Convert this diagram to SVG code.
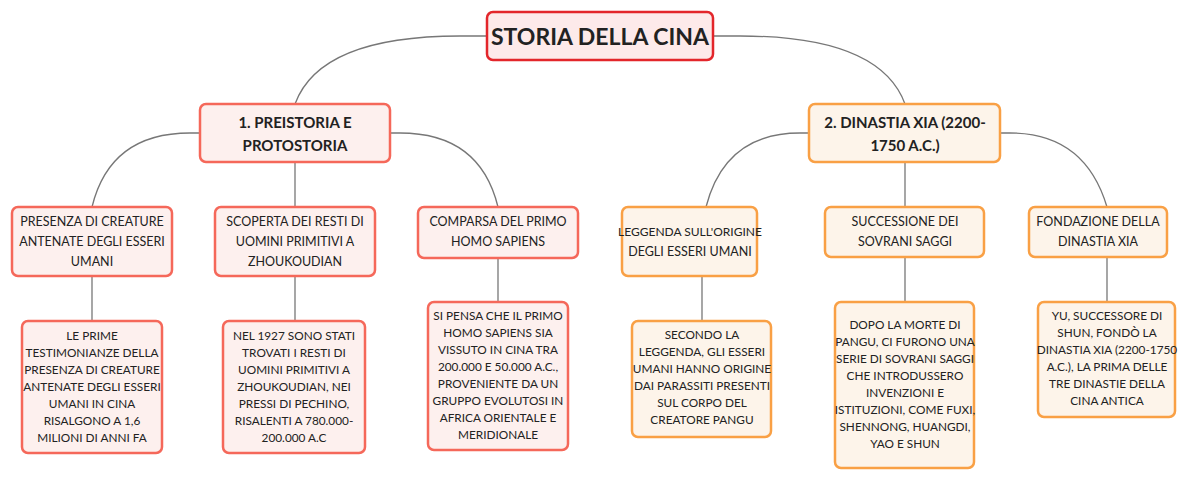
<svg xmlns="http://www.w3.org/2000/svg" width="1200" height="482" viewBox="0 0 1200 482">
<style>
text{font-family:Lato,"Open Sans",sans-serif;fill:#222;text-anchor:middle}
.r{fill:#fdeaea;stroke:#e3262b;stroke-width:2.5}
.p{fill:#fdf0ee;stroke:#f5685a;stroke-width:2.5}
.o{fill:#fdf4ea;stroke:#f9a045;stroke-width:2.5}
.t{font-size:12.5px}
.h{font-size:15px;font-weight:bold}
.s{font-size:11.8px}
.c path{fill:none;stroke:#777;stroke-width:1.3}
</style>
<rect width="1200" height="482" fill="#fff"/>
<g class="c">
<path d="M487 36 H460 Q320 36 295 104"/>
<path d="M713 36 H740 Q880 36 905 104"/>
<path d="M200 133 H190 Q110 133 92 207"/>
<path d="M295 162 V207"/>
<path d="M390 133 H400 Q480 133 498 207"/>
<path d="M809 133 H800 Q725 133 706 207"/>
<path d="M905 162 V207"/>
<path d="M1000 133 H1010 Q1085 133 1107 207"/>
<path d="M92 276 V321"/><path d="M295 276 V321"/><path d="M498 258 V302"/>
<path d="M702 276 V321"/><path d="M905 257 V302"/><path d="M1107 257 V302"/>
</g>
<g id="root"><rect class="r" x="487" y="12" width="226" height="48" rx="6"/><text x="600" y="45" style="font-size:23px;font-weight:bold">STORIA DELLA CINA</text></g>
<g id="n1"><rect class="p" x="200" y="104" width="190" height="58" rx="6"/><text class="h" x="295" y="128">1. PREISTORIA E</text><text class="h" x="295" y="151">PROTOSTORIA</text></g>
<g id="n2"><rect class="o" x="809" y="104" width="191" height="58" rx="6"/><text class="h" x="905" y="128">2. DINASTIA XIA (2200-</text><text class="h" x="905" y="151">1750 A.C.)</text></g>
<g id="a1"><rect class="p" x="12" y="207" width="160" height="69" rx="6"/><text class="t" x="92" y="226">PRESENZA DI CREATURE</text><text class="t" x="92" y="246">ANTENATE DEGLI ESSERI</text><text class="t" x="92" y="266">UMANI</text></g>
<g id="a2"><rect class="p" x="215" y="207" width="160" height="69" rx="6"/><text class="t" x="295" y="226">SCOPERTA DEI RESTI DI</text><text class="t" x="295" y="246">UOMINI PRIMITIVI A</text><text class="t" x="295" y="266">ZHOUKOUDIAN</text></g>
<g id="a3"><rect class="p" x="418" y="207" width="160" height="51" rx="6"/><text class="t" x="498" y="226">COMPARSA DEL PRIMO</text><text class="t" x="498" y="246">HOMO SAPIENS</text></g>
<g id="b1"><rect class="o" x="622" y="207" width="135" height="69" rx="6"/><text class="t" x="690" y="236" style="font-size:12px">LEGGENDA SULL'ORIGINE</text><text class="t" x="690" y="256">DEGLI ESSERI UMANI</text></g>
<g id="b2"><rect class="o" x="825" y="207" width="159" height="50" rx="6"/><text class="t" x="905" y="226">SUCCESSIONE DEI</text><text class="t" x="905" y="246">SOVRANI SAGGI</text></g>
<g id="b3"><rect class="o" x="1029" y="207" width="138" height="50" rx="6"/><text class="t" x="1098" y="226">FONDAZIONE DELLA</text><text class="t" x="1098" y="246">DINASTIA XIA</text></g>
<g id="d1" class="s"><rect class="p" x="22" y="321" width="140" height="132" rx="6"/>
<text class="s" x="92" y="340">LE PRIME</text><text class="s" x="92" y="357">TESTIMONIANZE DELLA</text><text class="s" x="92" y="374">PRESENZA DI CREATURE</text><text class="s" x="92" y="391">ANTENATE DEGLI ESSERI</text><text class="s" x="92" y="408">UMANI IN CINA</text><text class="s" x="92" y="425">RISALGONO A 1,6</text><text class="s" x="92" y="442">MILIONI DI ANNI FA</text></g>
<g id="d2"><rect class="p" x="223" y="321" width="142" height="132" rx="6"/>
<text class="s" x="294" y="340">NEL 1927 SONO STATI</text><text class="s" x="294" y="357">TROVATI I RESTI DI</text><text class="s" x="294" y="374">UOMINI PRIMITIVI A</text><text class="s" x="294" y="391">ZHOUKOUDIAN, NEI</text><text class="s" x="294" y="408">PRESSI DI PECHINO,</text><text class="s" x="294" y="425">RISALENTI A 780.000-</text><text class="s" x="294" y="442">200.000 A.C</text></g>
<g id="d3"><rect class="p" x="428" y="302" width="140" height="148" rx="6"/>
<text class="s" x="498" y="320">SI PENSA CHE IL PRIMO</text><text class="s" x="498" y="337">HOMO SAPIENS SIA</text><text class="s" x="498" y="354">VISSUTO IN CINA TRA</text><text class="s" x="498" y="371">200.000 E 50.000 A.C.,</text><text class="s" x="498" y="388">PROVENIENTE DA UN</text><text class="s" x="498" y="405">GRUPPO EVOLUTOSI IN</text><text class="s" x="498" y="422">AFRICA ORIENTALE E</text><text class="s" x="498" y="439">MERIDIONALE</text></g>
<g id="e1"><rect class="o" x="632" y="321" width="139" height="116" rx="6"/>
<text class="s" x="702" y="339">SECONDO LA</text><text class="s" x="702" y="356">LEGGENDA, GLI ESSERI</text><text class="s" x="702" y="373">UMANI HANNO ORIGINE</text><text class="s" x="702" y="390">DAI PARASSITI PRESENTI</text><text class="s" x="702" y="407">SUL CORPO DEL</text><text class="s" x="702" y="424">CREATORE PANGU</text></g>
<g id="e2"><rect class="o" x="835" y="302" width="139" height="166" rx="6"/>
<text class="s" x="905" y="329">DOPO LA MORTE DI</text><text class="s" x="905" y="346">PANGU, CI FURONO UNA</text><text class="s" x="905" y="363">SERIE DI SOVRANI SAGGI</text><text class="s" x="905" y="380">CHE INTRODUSSERO</text><text class="s" x="905" y="397">INVENZIONI E</text><text class="s" x="905" y="414">ISTITUZIONI, COME FUXI,</text><text class="s" x="905" y="431">SHENNONG, HUANGDI,</text><text class="s" x="905" y="448">YAO E SHUN</text></g>
<g id="e3"><rect class="o" x="1038" y="302" width="137" height="115" rx="6"/>
<text class="s" x="1107" y="320">YU, SUCCESSORE DI</text><text class="s" x="1107" y="337">SHUN, FONDÒ LA</text><text class="s" x="1107" y="354">DINASTIA XIA (2200-1750</text><text class="s" x="1107" y="371">A.C.), LA PRIMA DELLE</text><text class="s" x="1107" y="388">TRE DINASTIE DELLA</text><text class="s" x="1107" y="405">CINA ANTICA</text></g>
</svg>
